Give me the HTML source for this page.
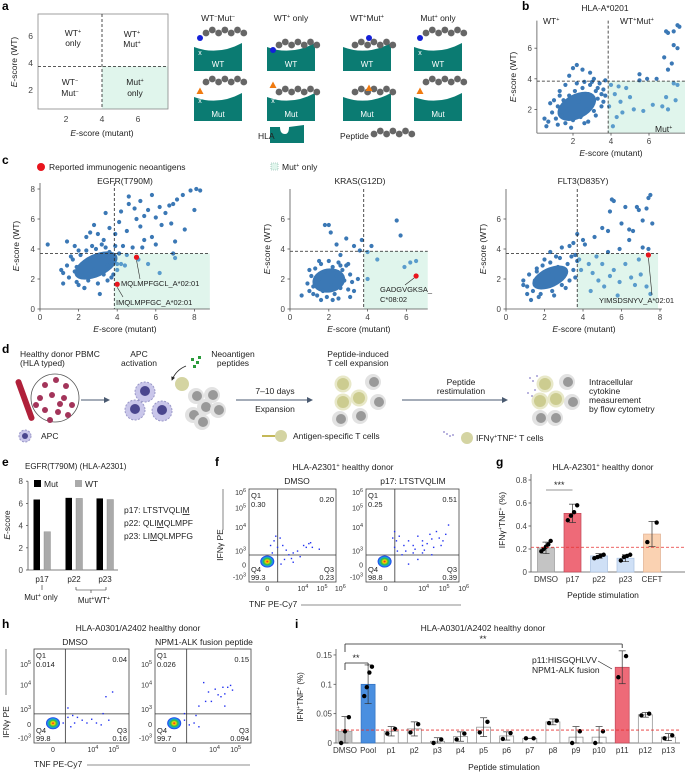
<!DOCTYPE html>
<html><head><meta charset="utf-8">
<style>
html,body{margin:0;padding:0;background:#fff;}
svg{display:block;font-family:"Liberation Sans",sans-serif;}
</style></head>
<body>
<svg id="fig" width="685" height="772" viewBox="0 0 685 772" xmlns="http://www.w3.org/2000/svg">
<defs>
<radialGradient id="flowBlob" cx="0.5" cy="0.5" r="0.5">
<stop offset="0" stop-color="#e8102a"/><stop offset="0.25" stop-color="#ffd400"/><stop offset="0.5" stop-color="#30c040"/><stop offset="0.75" stop-color="#1aa0e0"/><stop offset="1" stop-color="#2030f0"/>
</radialGradient>
<marker id="arr" markerWidth="6" markerHeight="6" refX="5" refY="3" orient="auto"><path d="M0,0 L6,3 L0,6 z" fill="#4a5a70"/></marker>
<marker id="arrK" markerWidth="5" markerHeight="5" refX="4" refY="2.5" orient="auto"><path d="M0,0 L5,2.5 L0,5 z" fill="#222"/></marker>
</defs>
</svg>
<script>
// ---------- DATA ----------
const bPoints=[[0.5,1.4],[0.6,0.9],[1.0,2.6],[1.3,3.2],[1.6,3.6],[1.8,4.2],[2.0,4.7],[2.2,4.9],[2.5,4.6],[2.9,4.4],[3.1,4.0],[2.6,3.8],[3.3,3.4],[3.5,3.0],[3.6,2.5],[3.2,1.6],[2.8,1.2],[1.2,1.0],[1.9,0.8],[3.7,3.9],[4.0,3.6],[4.2,3.0],[4.4,3.5],[4.5,2.5],[4.8,3.4],[5.0,2.8],[4.3,1.5],[5.2,2.0],[5.5,3.9],[5.7,1.9],[6.2,2.3],[6.7,2.2],[7.0,2.0],[6.9,2.8],[7.3,3.7],[7.5,3.6],[7.4,2.6],[4.1,0.9],[3.9,2.2],[4.6,1.8],[5.9,4.0],[6.4,4.0],[7.0,4.6],[7.2,5.0],[6.8,5.4],[7.5,6.0],[7.3,6.2],[7.0,7.0],[7.3,7.1],[7.6,7.4],[7.5,7.5],[6.9,7.1],[5.5,4.3]];
const bClusterPts=[[0.7,1.2],[0.9,1.8],[1.1,1.4],[1.2,2.2],[1.4,1.6],[1.5,2.6],[1.6,1.1],[1.7,2.0],[1.8,2.9],[2.0,1.3],[2.1,3.2],[2.3,2.5],[2.4,1.5],[2.5,3.4],[2.7,2.0],[2.8,3.0],[2.9,3.6],[3.0,2.4],[3.1,1.9],[3.2,3.2],[3.3,2.7],[3.4,3.7],[3.5,2.2],[3.6,3.3],[3.7,2.9],[0.8,2.4],[1.3,2.9],[2.2,3.7],[2.6,1.1],[3.0,3.8]];
const bCluster=[2.2,2.2,1.1,0.8,-28];
const egfrPoints=[[0.4,4.3],[1.1,2.6],[1.2,1.7],[1.4,4.5],[1.6,3.5],[1.8,4.2],[2.0,3.9],[2.4,4.8],[2.6,5.1],[3.0,5.0],[3.3,4.6],[3.6,5.4],[3.9,5.0],[4.1,5.8],[4.2,6.5],[4.6,7.0],[4.9,6.7],[4.6,7.5],[5.0,6.0],[5.2,5.5],[5.4,6.2],[5.6,6.6],[5.8,4.8],[6.0,6.1],[6.2,6.8],[6.5,6.4],[6.7,6.9],[6.9,7.0],[7.1,7.3],[7.4,7.6],[7.8,7.9],[8.1,8.0],[8.3,7.9],[8.0,6.6],[7.5,5.3],[7.0,4.5],[6.8,5.7],[6.0,4.3],[5.4,4.6],[4.8,4.1],[4.3,4.2],[4.5,3.6],[4.2,3.0],[4.0,2.6],[4.4,2.9],[5.1,3.3],[5.6,3.0],[6.2,2.4],[7.0,3.4],[6.9,3.7],[3.1,1.0],[2.3,1.4],[1.9,1.8],[3.5,1.9],[3.8,2.3],[4.5,5.2],[5.2,7.2],[5.8,7.6],[3.4,6.4],[2.8,5.6],[5.3,4.1],[6.3,5.6]];
const egfrClusterPts=[[1.2,2.4],[1.4,2.9],[1.5,2.1],[1.7,3.3],[1.8,2.5],[2.0,1.6],[2.1,3.6],[2.2,2.2],[2.4,3.9],[2.5,1.9],[2.6,3.2],[2.8,2.6],[2.9,4.0],[3.0,1.7],[3.1,3.5],[3.3,2.3],[3.4,4.1],[3.5,2.9],[3.6,3.8],[3.7,2.1],[3.8,3.3],[3.9,4.2],[4.0,3.0],[4.1,3.7],[2.3,1.4],[1.9,2.8],[3.2,4.3],[2.7,4.2]];
const egfrCluster=[2.9,2.9,1.2,0.75,-25];
const egfrRed=[[5.0,3.45],[4.0,1.65]];
const krasPoints=[[0.6,0.9],[1.0,2.6],[1.5,3.2],[1.8,5.6],[2.0,5.6],[2.1,5.1],[2.4,4.3],[2.6,3.6],[2.9,4.7],[3.3,4.2],[3.6,3.9],[3.7,4.6],[3.5,2.0],[3.3,1.2],[3.1,0.8],[2.2,0.6],[3.0,3.0],[4.0,3.8],[4.2,4.2],[4.0,2.0],[5.5,5.9],[5.7,4.9],[6.2,3.1],[6.5,3.2],[5.9,2.8],[4.5,3.3],[1.2,1.0],[2.6,2.9]];
const krasClusterPts=[[0.9,1.7],[1.0,1.2],[1.1,2.2],[1.2,1.5],[1.3,2.7],[1.4,0.9],[1.5,2.0],[1.6,3.0],[1.7,1.2],[1.8,2.5],[1.9,0.8],[2.0,3.2],[2.1,1.6],[2.2,2.8],[2.3,1.0],[2.4,2.2],[2.5,3.1],[2.6,1.4],[2.7,2.6],[2.8,1.9],[2.9,2.9],[3.0,1.3],[3.1,2.3],[3.2,1.8],[1.6,0.6],[2.5,0.7]];
const krasCluster=[2.0,1.9,0.85,0.8,-10];
const krasRed=[[6.5,2.2]];
const flt3Points=[[0.9,1.6],[1.1,1.0],[1.3,0.6],[1.6,2.7],[2.0,3.3],[2.3,3.8],[2.6,3.5],[2.9,4.1],[3.3,4.2],[3.5,4.4],[3.6,3.6],[3.8,3.3],[3.9,2.6],[4.1,4.3],[4.3,3.0],[4.5,2.4],[4.7,3.5],[4.8,1.9],[5.0,3.0],[5.1,1.5],[5.4,2.2],[5.3,3.8],[5.6,2.6],[5.9,1.8],[6.2,3.0],[6.5,2.1],[6.7,1.6],[7.0,2.3],[6.9,3.3],[7.3,1.5],[7.5,1.0],[5.8,0.9],[4.4,1.2],[3.7,5.0],[4.0,4.6],[4.6,4.8],[5.0,5.4],[5.3,5.2],[5.4,6.5],[5.5,7.3],[5.6,7.2],[6.0,5.7],[6.2,6.8],[6.4,5.3],[6.4,4.6],[6.6,5.2],[6.8,6.8],[6.9,6.6],[7.1,5.9],[7.3,6.7],[7.4,7.4],[7.5,7.6],[7.6,5.7],[7.1,4.1],[7.4,4.0],[5.9,4.0]];
const flt3ClusterPts=[[0.9,1.9],[1.1,1.5],[1.2,2.3],[1.4,1.2],[1.5,1.9],[1.6,2.5],[1.8,1.0],[1.9,2.9],[2.0,1.5],[2.2,2.4],[2.3,3.1],[2.4,1.2],[2.6,2.0],[2.7,2.8],[2.8,3.4],[2.9,1.6],[3.0,2.4],[3.2,3.0],[3.3,1.9],[3.4,3.5],[3.5,2.6],[3.6,2.1],[3.7,3.2],[1.7,0.8],[2.5,0.9],[3.1,1.4]];
const flt3Cluster=[2.3,2.1,1.0,0.65,-25];
const flt3Red=[[7.4,3.6]];

const eCategories=["p17","p22","p23"];
const eMut=[6.35,6.5,6.45];
const eWT=[3.45,6.45,6.35];
const eTicks=[0,2,4,6,8];

const gCategories=["DMSO","p17","p22","p23","CEFT"];
const gValues=[0.21,0.51,0.14,0.12,0.33];
const gErr=[0.05,0.08,0.02,0.03,0.11];
const gDots=[[0.18,0.2,0.22,0.24,0.27],[0.45,0.49,0.52,0.58],[0.12,0.13,0.14,0.15],[0.1,0.13,0.14,0.15],[0.26,0.43]];
const gTicks=[0,0.2,0.4,0.6,0.8];
const gThreshold=0.215;

const iCategories=["DMSO","Pool","p1","p2","p3","p4","p5","p6","p7","p8","p9","p10","p11","p12","p13"];
const iValues=[0.02,0.1,0.02,0.024,0.003,0.011,0.027,0.012,0.008,0.036,0.01,0.01,0.129,0.048,0.01];
const iErr=[0.025,0.033,0.008,0.012,0.006,0.008,0.016,0.007,0.0,0.005,0.018,0.018,0.028,0.004,0.006];
const iDots=[[0.0,0.02,0.044],[0.08,0.095,0.12,0.13],[0.016,0.024],[0.018,0.032],[0.0,0.006],[0.006,0.016],[0.018,0.036],[0.007,0.017],[0.008,0.008],[0.034,0.038],[0.0,0.02],[0.0,0.02],[0.112,0.148],[0.047,0.05],[0.008,0.013]];
const iTicks=[0,0.05,0.1,0.15];
const iThreshold=0.022;

const f1Dots=[[0.35,0.52],[0.38,0.6],[0.42,0.65],[0.45,0.7],[0.5,0.68],[0.55,0.66],[0.62,0.6],[0.68,0.58],[0.7,0.57],[0.72,0.62],[0.65,0.62],[0.48,0.74],[0.4,0.75],[0.3,0.5],[0.28,0.55],[0.32,0.62],[0.26,0.68],[0.36,0.8],[0.5,0.78],[0.58,0.72],[0.8,0.64],[0.24,0.6]];
const f2Dots=[[0.3,0.45],[0.32,0.55],[0.35,0.5],[0.4,0.6],[0.45,0.55],[0.5,0.6],[0.55,0.5],[0.6,0.55],[0.62,0.65],[0.65,0.58],[0.68,0.48],[0.7,0.53],[0.72,0.62],[0.75,0.45],[0.78,0.52],[0.8,0.6],[0.82,0.55],[0.85,0.48],[0.88,0.38],[0.6,0.68],[0.5,0.68],[0.42,0.66],[0.38,0.7],[0.55,0.75],[0.45,0.8],[0.7,0.7],[0.3,0.62],[0.28,0.52],[0.33,0.66],[0.6,0.6],[0.52,0.64]];
const h1Dots=[[0.35,0.62],[0.4,0.7],[0.45,0.72],[0.5,0.75],[0.55,0.78],[0.6,0.74],[0.65,0.78],[0.72,0.68],[0.75,0.5],[0.82,0.45],[0.78,0.75],[0.38,0.82],[0.42,0.78],[0.7,0.8],[0.3,0.78],[0.35,0.72]];
const h2Dots=[[0.5,0.35],[0.55,0.45],[0.62,0.42],[0.68,0.5],[0.72,0.47],[0.75,0.4],[0.78,0.38],[0.8,0.43],[0.7,0.4],[0.65,0.48],[0.58,0.55],[0.52,0.55],[0.45,0.6],[0.35,0.8],[0.4,0.78],[0.45,0.82],[0.3,0.75],[0.3,0.68],[0.42,0.7],[0.72,0.6]];

// ---------- HELPERS ----------
const NS="http://www.w3.org/2000/svg";
const root=document.getElementById('fig');
function mk(tag,attrs,name,parent){
  const el=document.createElementNS(NS,tag);
  for(const k in attrs) el.setAttribute(k,attrs[k]);
  
  
  (parent||root).appendChild(el);
  return el;
}
function txt(x,y,html,name,o){
  o=o||{};
  const a={x:x,y:y,'font-size':o.size||8.5,fill:o.fill||'#222','text-anchor':o.anchor||'start'};
  if(o.weight) a['font-weight']=o.weight;
  if(o.style) a['font-style']=o.style;
  if(o.rot) a.transform='rotate('+o.rot+' '+x+' '+y+')';
  const el=mk('text',a,name,o.parent);
  el.innerHTML=html;
  return el;
}
const S=s=>'<tspan baseline-shift="super" font-size="5.5">'+s+'</tspan>';
const line=(x1,y1,x2,y2,name,o)=>{o=o||{};const a={x1,y1,x2,y2,stroke:o.stroke||'#222','stroke-width':o.w||0.8,'stroke-dasharray':o.dash||'none'};if(o.marker)a['marker-end']=o.marker;return mk('line',a,name);};
const EY='<tspan font-style="italic">E</tspan>-score (WT)';
const EX='<tspan font-style="italic">E</tspan>-score (mutant)';
const BLUE='#3b78b5', LBLUE='#5a9ccc', SHADE='#e0f5ec', TEAL='#0b7b72';

// ---------- PANEL LETTERS ----------
[['a',2,10],['b',522,10],['c',2,164],['d',2,353],['e',2,466],['f',215,466],['g',496,466],['h',2,628],['i',295,628]].forEach(p=>txt(p[1],p[2],p[0],'panel-label-'+p[0],{size:12,weight:'bold',fill:'#000'}));

// ---------- PANEL A schematic ----------
(function(){
  const ax=v=>30+v*18, ay=v=>117-v*13.5;
  mk('rect',{x:ax(4),y:ay(3.75),width:168-ax(4),height:109-ay(3.75),fill:SHADE},'a-mut-only-shade');
  mk('rect',{x:38,y:14,width:130,height:95,fill:'none',stroke:'#888','stroke-width':0.8},'a-plot-frame');
  line(ax(4),14,ax(4),109,'a-threshold-x',{dash:'3,2'});
  line(38,ay(3.75),168,ay(3.75),'a-threshold-y',{dash:'3,2'});
  [2,4,6].forEach(v=>{txt(ax(v),122,v,'a-x-tick-'+v,{anchor:'middle',fill:'#444'});txt(33,ay(v)+3,v,'a-y-tick-'+v,{anchor:'end',fill:'#444'});});
  txt(102,136,EX,'a-x-axis-title',{anchor:'middle'});
  txt(17,62,EY,'a-y-axis-title',{anchor:'middle',rot:-90});
  txt(73,36,'WT'+S('+'),'a-label-wt-only',{anchor:'middle'});txt(73,46,'only','a-label-wt-only-2',{anchor:'middle'});
  txt(132,37,'WT'+S('+'),'a-label-wtmut',{anchor:'middle'});txt(132,47,'Mut'+S('+'),'a-label-wtmut-2',{anchor:'middle'});
  txt(70,85,'WT'+S('−'),'a-label-neg',{anchor:'middle'});txt(70,96,'Mut'+S('−'),'a-label-neg-2',{anchor:'middle'});
  txt(135,85,'Mut'+S('+'),'a-label-mut-only',{anchor:'middle'});txt(135,96,'only','a-label-mut-only-2',{anchor:'middle'});
  const cols=[218,291,367,438];
  const heads=['WT'+S('−')+'Mut'+S('−'),'WT'+S('+')+' only','WT'+S('+')+'Mut'+S('+'),'Mut'+S('+')+' only'];
  function hla(cx,top,label,name){
    const l=cx-24,r=cx+24,b=top+24;
    mk('path',{d:`M${l},${top} Q${cx},${top+9} ${r},${top-4} L${r},${b} L${l},${b} Z`,fill:TEAL},name+'-hla');
    txt(cx,b-4,label,name+'-label',{anchor:'middle',fill:'#fff',size:8});
  }
  function pep(cx,y,name){
    for(let k=0;k<7;k++){mk('circle',{cx:cx-16+k*6.3,cy:y-(k%2?3:0),r:3.4,fill:'#666'},name+'-residue');}
  }
  cols.forEach((cx,i)=>{
    txt(cx,21,heads[i],'a-icon-header-'+i,{anchor:'middle'});
    hla(cx,47,'WT','a-icon-wt-'+i);
    hla(cx,97,'Mut','a-icon-mut-'+i);
    pep(cx+4,i==1||i==2?45:33,'a-icon-wt-peptide-'+i);
    pep(cx+4,i==2||i==1?92:82,'a-icon-mut-peptide-'+i);
    mk('circle',{cx:i==2?cx+2:cx-18,cy:i==1?50:38,r:3,fill:'#1420d8'},'a-wt-residue-'+i);
    const my=i==2?88:(i==1?85:91);
    const mx=i==2?cx+2:cx-18;
    mk('path',{d:`M${mx-3.5},${my+3} L${mx+3.5},${my+3} L${mx},${my-3.5} Z`,fill:'#f07a10'},'a-mut-residue-'+i);
    if(i==0||i==3) txt(cx-18,55,'x','a-wt-mismatch-'+i,{anchor:'middle',size:7,fill:'#fff'});
    if(i==0||i==1) txt(cx-18,103,'x','a-mut-mismatch-'+i,{anchor:'middle',size:7,fill:'#fff'});
  });
  mk('path',{d:'M270,127 L280,127 Q280,134 285,134 Q289,134 289,127 L304,125 L304,143 L270,143 Z',fill:TEAL},'a-legend-hla-icon');
  txt(258,139,'HLA','a-legend-hla-text');
  txt(340,139,'Peptide','a-legend-peptide-text');
  for(let k=0;k<7;k++) mk('circle',{cx:374+k*6.3,cy:134-(k%2?3:0),r:3.4,fill:'#666'},'a-legend-peptide-residue');
})();

// ---------- SCATTER HELPER ----------
function scatter(c){
  const X=v=>c.x0+v*c.sx, Y=v=>c.y0-v*c.sy;
  mk('rect',{x:X(c.dx),y:Y(c.dy),width:X(c.shadeMax)-X(c.dx),height:Y(c.yMin)-Y(c.dy),fill:SHADE},c.n+'-mut-only-shade');
  const cl=c.cluster;
  mk('ellipse',{cx:X(cl[0]),cy:Y(cl[1]),rx:cl[2]*c.sx,ry:cl[3]*c.sy,fill:BLUE,transform:`rotate(${cl[4]} ${X(cl[0])} ${Y(cl[1])})`},c.n+'-dense-cluster');
  c.cpts.concat(c.pts).forEach(p=>{
    const inShade=p[0]>c.dx&&p[1]<c.dy;
    mk('circle',{cx:X(p[0]),cy:Y(p[1]),r:2.1,fill:inShade?LBLUE:BLUE},c.n+'-point');
  });
  line(X(c.dx),Y(c.yTop),X(c.dx),Y(c.yMin),c.n+'-threshold-x',{dash:'3,2'});
  line(X(c.xMin),Y(c.dy),X(c.shadeMax),Y(c.dy),c.n+'-threshold-y',{dash:'3,2'});
  (c.red||[]).forEach(p=>mk('circle',{cx:X(p[0]),cy:Y(p[1]),r:2.6,fill:'#e8141c'},c.n+'-reported-neoantigen'));
  line(X(c.xMin),Y(c.yTop),X(c.xMin),Y(c.yMin),c.n+'-y-axis',{stroke:'#555'});
  line(X(c.xMin),Y(c.yMin),X(c.xMax),Y(c.yMin),c.n+'-x-axis',{stroke:'#555'});
  c.xt.forEach(v=>{line(X(v),Y(c.yMin),X(v),Y(c.yMin)+2.5,c.n+'-x-tick',{stroke:'#555'});txt(X(v),Y(c.yMin)+11,v,c.n+'-x-tick-label-'+v,{anchor:'middle',fill:'#444',size:8});});
  c.yt.forEach(v=>{line(X(c.xMin)-2.5,Y(v),X(c.xMin),Y(v),c.n+'-y-tick',{stroke:'#555'});txt(X(c.xMin)-5,Y(v)+3,v,c.n+'-y-tick-label-'+v,{anchor:'end',fill:'#444',size:8});});
  txt((X(c.xMin)+X(c.xMax))/2,Y(c.yMin)+23,EX,c.n+'-x-axis-title',{anchor:'middle'});
  txt(c.ylx,(Y(c.yMin)+Y(c.yTop))/2,EY,c.n+'-y-axis-title',{anchor:'middle',rot:-90});
  return {X,Y};
}
(function(){
  scatter({n:'b',x0:535,sx:19,y0:140,sy:15.3,dx:3.85,dy:3.85,shadeMax:7.9,xMin:0.1,xMax:7.9,yMin:0.45,yTop:7.8,pts:bPoints,cpts:bClusterPts,cluster:bCluster,xt:[2,4,6],yt:[2,4,6],ylx:516});
  txt(605,11,'HLA-A*0201','b-title',{anchor:'middle'});
  txt(543,24,'WT'+S('+'),'b-label-wt');
  txt(620,24,'WT'+S('+')+'Mut'+S('+'),'b-label-wtmut');
  txt(655,132,'Mut'+S('+'),'b-label-mut');
})();
mk('circle',{cx:41,cy:167,r:4,fill:'#e8141c'},'c-legend-red-dot');
txt(49,170,'Reported immunogenic neoantigens','c-legend-red-text');
mk('rect',{x:271,y:163,width:7,height:7,fill:SHADE,stroke:'#7a9','stroke-dasharray':'1,1','stroke-width':0.6},'c-legend-shade-box');
txt(282,170,'Mut'+S('+')+' only','c-legend-shade-text');
(function(){
  const r=scatter({n:'egfr',x0:40,sx:19.3,y0:309,sy:15,dx:3.85,dy:3.7,shadeMax:8.8,xMin:0,xMax:8.8,yMin:0,yTop:8.4,pts:egfrPoints,cpts:egfrClusterPts,cluster:egfrCluster,red:egfrRed,xt:[0,2,4,6,8],yt:[0,2,4,6,8],ylx:19});
  txt(125,184,'EGFR(T790M)','egfr-title',{anchor:'middle'});
  txt(121,286,'MQLMPFGCL_A*02:01','egfr-annot-1',{size:7.5});
  line(140,279,r.X(5.0),r.Y(3.45)+3,'egfr-annot-1-arrow',{w:0.6});
  txt(116,305,'IMQLMPFGC_A*02:01','egfr-annot-2',{size:7.5});
  line(123,297,r.X(4.0),r.Y(1.65)+3,'egfr-annot-2-arrow',{w:0.6});
})();
(function(){
  const r=scatter({n:'kras',x0:290,sx:19.4,y0:309,sy:15,dx:3.8,dy:3.85,shadeMax:7.1,xMin:0,xMax:7.1,yMin:0,yTop:8.0,pts:krasPoints,cpts:krasClusterPts,cluster:krasCluster,red:krasRed,xt:[0,2,4,6],yt:[0,2,4,6],ylx:270});
  txt(360,184,'KRAS(G12D)','kras-title',{anchor:'middle'});
  txt(380,292,'GADGVGKSA_','kras-annot-1',{size:7.5});
  txt(380,302,'C*08:02','kras-annot-2',{size:7.5});
  line(405,285,r.X(6.5)-2,r.Y(2.2)+2,'kras-annot-arrow',{w:0.6});
})();
(function(){
  const r=scatter({n:'flt3',x0:506,sx:19.25,y0:309,sy:15,dx:3.7,dy:3.7,shadeMax:7.9,xMin:0,xMax:8.1,yMin:0,yTop:8.0,pts:flt3Points,cpts:flt3ClusterPts,cluster:flt3Cluster,red:flt3Red,xt:[0,2,4,6,8],yt:[0,2,4,6],ylx:486});
  txt(583,184,'FLT3(D835Y)','flt3-title',{anchor:'middle'});
  txt(599,303,'YIMSDSNYV_A*02:01','flt3-annot',{size:7.5});
  line(652,295,r.X(7.4),r.Y(3.6)+3,'flt3-annot-arrow',{w:0.6});
})();

// ---------- PANEL D ----------
(function(){
  txt(20,357,'Healthy donor PBMC','d-text-pbmc');txt(20,366,'(HLA typed)','d-text-hla-typed');
  mk('circle',{cx:55,cy:398,r:24,fill:'#fff',stroke:'#555','stroke-width':0.8},'d-pbmc-circle');
  [[45,385],[56,380],[66,386],[40,398],[52,395],[64,398],[72,405],[45,410],[58,412],[68,415],[50,420],[60,404],[36,405]].forEach(p=>mk('circle',{cx:p[0],cy:p[1],r:3,fill:'#a3345a'},'d-pbmc-cell'));
  mk('rect',{x:22,y:378,width:6,height:44,rx:3,fill:'#b0203a',transform:'rotate(-20 25 400)'},'d-blood-tube');
  line(81,400,109,400,'d-arrow-1',{stroke:'#4a5a70',w:1,marker:'url(#arr)'});
  txt(139,357,'APC','d-text-apc',{anchor:'middle'});txt(139,366,'activation','d-text-activation',{anchor:'middle'});
  txt(233,357,'Neoantigen','d-text-neoantigen',{anchor:'middle'});txt(233,366,'peptides','d-text-peptides',{anchor:'middle'});
  [[191,358],[196,361],[193,365],[198,356]].forEach(p=>mk('rect',{x:p[0],y:p[1],width:3,height:3,fill:'#2a9a3a'},'d-peptide'));
  mk('path',{d:'M186,366 Q176,370 172,380',fill:'none',stroke:'#222','stroke-width':0.8,'marker-end':'url(#arrK)'},'d-curved-arrow');
  [[196,396],[205,407],[193,415],[212,395],[218,410],[202,422]].forEach(p=>{mk('circle',{cx:p[0],cy:p[1],r:8,fill:'#e2e2e2'},'d-t-cell-outer');mk('circle',{cx:p[0]+1,cy:p[1],r:5,fill:'#999'},'d-t-cell-inner');});
  [[145,392],[135,410],[162,411]].forEach(p=>{mk('circle',{cx:p[0],cy:p[1],r:10,fill:'#c9c6ea',stroke:'#9a98c8','stroke-dasharray':'2,1.5'},'d-apc-cell');mk('circle',{cx:p[0],cy:p[1]-1,r:5,fill:'#4a468e'},'d-apc-nucleus');});
  mk('circle',{cx:182,cy:384,r:7,fill:'#d4d4a2'},'d-antigen-t-cell');
  line(236,400,312,400,'d-arrow-2',{stroke:'#4a5a70',w:1,marker:'url(#arr)'});
  txt(275,394,'7–10 days','d-text-days',{anchor:'middle'});txt(275,412,'Expansion','d-text-expansion',{anchor:'middle'});
  txt(358,357,'Peptide-induced','d-text-peptide-induced',{anchor:'middle'});txt(358,366,'T cell expansion','d-text-t-cell-expansion',{anchor:'middle'});
  [[373,382],[378,402],[360,416],[340,419]].forEach(p=>{mk('circle',{cx:p[0],cy:p[1],r:8,fill:'#e2e2e2'},'d-t-cell-outer');mk('circle',{cx:p[0]+1,cy:p[1],r:5,fill:'#999'},'d-t-cell-inner');});
  [[343,384],[343,402],[359,398]].forEach(p=>{mk('circle',{cx:p[0],cy:p[1],r:8.5,fill:'#e8e8c8'},'d-antigen-t-cell-outer');mk('circle',{cx:p[0],cy:p[1],r:6,fill:'#cccc90'},'d-antigen-t-cell-inner');});
  line(402,400,507,400,'d-arrow-3',{stroke:'#4a5a70',w:1,marker:'url(#arr)'});
  txt(461,385,'Peptide','d-text-peptide',{anchor:'middle'});txt(461,394,'restimulation','d-text-restimulation',{anchor:'middle'});
  [[567,382],[572,402],[555,418],[540,418]].forEach(p=>{mk('circle',{cx:p[0],cy:p[1],r:8,fill:'#e2e2e2'},'d-t-cell-outer');mk('circle',{cx:p[0]+1,cy:p[1],r:5,fill:'#999'},'d-t-cell-inner');});
  [[545,384],[540,401],[556,399]].forEach(p=>{mk('circle',{cx:p[0],cy:p[1],r:8.5,fill:'#e8e8c8'},'d-antigen-t-cell-outer');mk('circle',{cx:p[0],cy:p[1],r:6,fill:'#cccc90'},'d-antigen-t-cell-inner');});
  [[530,378],[533,381],[528,393],[532,396],[535,390],[537,376]].forEach(p=>mk('circle',{cx:p[0],cy:p[1],r:0.9,fill:'#8a80c8'},'d-cytokine'));
  ['Intracellular','cytokine','measurement','by flow cytometry'].forEach((s,k)=>txt(589,385+k*9,s,'d-text-icc-'+k));
  mk('circle',{cx:25,cy:436,r:6,fill:'#c9c6ea',stroke:'#9a98c8','stroke-dasharray':'2,1.5'},'d-legend-apc-icon');
  mk('circle',{cx:25,cy:436,r:3,fill:'#4a468e'},'d-legend-apc-nucleus');
  txt(41,439,'APC','d-legend-apc-text');
  mk('circle',{cx:281,cy:436,r:6,fill:'#d4d4a2'},'d-legend-antigen-icon');
  line(262,436,275,436,'d-legend-tcr',{stroke:'#b0a020',w:1.5});
  txt(293,439,'Antigen-specific T cells','d-legend-antigen-text');
  mk('circle',{cx:467,cy:438,r:6,fill:'#d4d4a2'},'d-legend-ifn-icon');
  txt(476,441,'IFNγ'+S('+')+'TNF'+S('+')+' T cells','d-legend-ifn-text');
  [[444,432],[447,434],[450,436],[453,435]].forEach(p=>mk('circle',{cx:p[0],cy:p[1],r:0.9,fill:'#8a80c8'},'d-legend-cytokine'));
})();

// ---------- PANEL E ----------
(function(){
  const Y=v=>570-v*11.1;
  const cx=[42,74,105];
  txt(25,469,'EGFR(T790M) (HLA-A2301)','e-title',{size:8});
  line(28,Y(8),28,570,'e-y-axis',{stroke:'#555'});
  line(28,570,118,570,'e-x-axis',{stroke:'#555'});
  eTicks.forEach(v=>{line(26,Y(v),28,Y(v),'e-y-tick',{stroke:'#555'});txt(23,Y(v)+3,v,'e-y-tick-label-'+v,{anchor:'end',size:8,fill:'#444'});});
  txt(10,525,'<tspan font-style="italic">E</tspan>-score','e-y-axis-title',{anchor:'middle',rot:-90});
  eCategories.forEach((c,i)=>{
    mk('rect',{x:cx[i]-8.5,y:Y(eMut[i]),width:6.5,height:570-Y(eMut[i]),fill:'#000'},'e-bar-mut-'+c);
    mk('rect',{x:cx[i]+2,y:Y(eWT[i]),width:6.5,height:570-Y(eWT[i]),fill:'#aaa',stroke:'#888','stroke-width':0.4},'e-bar-wt-'+c);
    txt(cx[i],582,c,'e-x-label-'+c,{anchor:'middle',size:8});
  });
  mk('rect',{x:34,y:480,width:7,height:7,fill:'#000'},'e-legend-mut-box');txt(44,487,'Mut','e-legend-mut-text');
  mk('rect',{x:75,y:480,width:7,height:7,fill:'#aaa'},'e-legend-wt-box');txt(85,487,'WT','e-legend-wt-text');
  line(42,585,42,590,'e-bracket-p17',{w:0.6});
  txt(41,600,'Mut'+S('+')+' only','e-group-mut-only',{anchor:'middle',size:8});
  line(76,590,106,590,'e-bracket-wtmut',{w:0.6});line(76,587,76,590,'e-bracket-l',{w:0.6});line(106,587,106,590,'e-bracket-r',{w:0.6});line(91,590,91,593,'e-bracket-m',{w:0.6});
  txt(94,603,'Mut'+S('+')+'WT'+S('+'),'e-group-mutwt',{anchor:'middle',size:8});
  txt(124,513,'p17: LTSTVQLI<tspan text-decoration="underline">M</tspan>','e-seq-p17');
  txt(124,526,'p22: QLI<tspan text-decoration="underline">M</tspan>QLMPF','e-seq-p22');
  txt(124,539,'p23: LI<tspan text-decoration="underline">M</tspan>QLMPFG','e-seq-p23');
})();

// ---------- FLOW HELPER ----------
function flow(n,x,y,w,h,gv,gh,blob,dots,q,yt,xt){
  mk('rect',{x,y,width:w,height:h,fill:'#fff',stroke:'#444','stroke-width':0.8},n+'-frame');
  line(x+gv*w,y,x+gv*w,y+h,n+'-gate-vertical',{stroke:'#333'});
  line(x,y+gh*h,x+w,y+gh*h,n+'-gate-horizontal',{stroke:'#333'});
  dots.forEach(d=>mk('rect',{x:x+d[0]*w,y:y+d[1]*h,width:1.4,height:1.4,fill:'#2030f0'},n+'-event'));
  mk('ellipse',{cx:x+blob[0]*w,cy:y+blob[1]*h,rx:7,ry:6,fill:'url(#flowBlob)'},n+'-density-blob');
  txt(x+2,y+9,'Q1',n+'-q1',{size:7.5});txt(x+2,y+18,q[0],n+'-q1-value',{size:7.5});
  txt(x+w-2,y+13,q[1],n+'-q2-value',{size:7.5,anchor:'end'});
  txt(x+2,y+h-10,'Q4',n+'-q4',{size:7.5});txt(x+2,y+h-2,q[2],n+'-q4-value',{size:7.5});
  txt(x+w-2,y+h-10,'Q3',n+'-q3',{size:7.5,anchor:'end'});txt(x+w-2,y+h-2,q[3],n+'-q3-value',{size:7.5,anchor:'end'});
  yt.forEach(t=>txt(x-3,y+t[1]*h+3,t[0],n+'-y-tick-label',{size:7,anchor:'end',fill:'#333'}));
  xt.forEach(t=>txt(x+t[1]*w,y+h+9,t[0],n+'-x-tick-label',{size:7,anchor:'middle',fill:'#333'}));
}
const pw=(e)=>'10'+S(e);
txt(343,470,'HLA-A2301'+S('+')+' healthy donor','f-title',{anchor:'middle'});
txt(297,484,'DMSO','f-dmso-title',{anchor:'middle'});
txt(413,484,'p17: LTSTVQLIM','f-p17-title',{anchor:'middle'});
const fyt=[[pw(6),0.03],[pw(5),0.2],[pw(4),0.41],[pw(3),0.66],['0',0.81],['-'+pw(3),0.94]];
const fxt=[['0',0.21],[pw(4),0.62],[pw(5),0.84],[pw(6),1.05]];
flow('f-dmso',249,489,87,93,0.33,0.71,[0.21,0.78],f1Dots,['0.30','0.20','99.3','0.23'],fyt,fxt);
flow('f-p17',366,489,93,93,0.31,0.71,[0.2,0.78],f2Dots,['0.25','0.51','98.8','0.39'],fyt,fxt);
txt(223,545,'IFNγ PE','f-y-axis-title',{anchor:'middle',rot:-90});
line(223,489,223,530,'f-y-axis-line',{stroke:'#666'});
txt(249,607,'TNF PE-Cy7','f-x-axis-title');
line(301,605,461,605,'f-x-axis-line',{stroke:'#666'});
txt(138,631,'HLA-A0301/A2402 healthy donor','h-title',{anchor:'middle'});
txt(75,645,'DMSO','h-dmso-title',{anchor:'middle'});
txt(204,645,'NPM1-ALK fusion peptide','h-npm1-title',{anchor:'middle'});
const hyt=[[pw(5),0.16],[pw(4),0.38],[pw(3),0.64],['0',0.8],['-'+pw(3),0.94]];
const hxt=[['0',0.2],[pw(4),0.62],[pw(5),0.84]];
flow('h-dmso',34,649,95,94,0.33,0.69,[0.2,0.79],h1Dots,['0.014','0.04','99.8','0.16'],hyt,hxt);
flow('h-npm1',155,649,96,94,0.33,0.69,[0.2,0.79],h2Dots,['0.026','0.15','99.7','0.094'],hyt,hxt);
txt(9,722,'IFNγ PE','h-y-axis-title',{anchor:'middle',rot:-90});
line(6,649,6,695,'h-y-axis-line',{stroke:'#666'});
txt(34,767,'TNF PE-Cy7','h-x-axis-title');
line(87,765,250,765,'h-x-axis-line',{stroke:'#666'});

// ---------- BAR HELPER ----------
function barChart(n,cats,vals,errs,dots,ticks,thr,axisX,y0,sy,cx,bw,colors,stroke,xEnd,tickFmt){
  const Y=v=>y0-v*sy;
  line(axisX,Y(ticks[ticks.length-1])-6,axisX,y0,n+'-y-axis',{stroke:'#555'});
  line(axisX,y0,xEnd,y0,n+'-x-axis',{stroke:'#555'});
  ticks.forEach(v=>{line(axisX-2.5,Y(v),axisX,Y(v),n+'-y-tick',{stroke:'#555'});txt(axisX-4,Y(v)+3,tickFmt(v),n+'-y-tick-label',{anchor:'end',size:8,fill:'#444'});});
  cats.forEach((c,i)=>{
    mk('rect',{x:cx(i)-bw/2,y:Y(vals[i]),width:bw,height:y0-Y(vals[i]),fill:colors[i],stroke:stroke[i],'stroke-width':0.7},n+'-bar-'+c);
    const e1=Y(vals[i]+errs[i]),e2=Y(Math.max(0,vals[i]-errs[i]));
    line(cx(i),e1,cx(i),e2,n+'-error-'+c,{stroke:'#333',w:0.7});
    line(cx(i)-3.5,e1,cx(i)+3.5,e1,n+'-error-cap-'+c,{stroke:'#333',w:0.7});
    line(cx(i)-3.5,e2,cx(i)+3.5,e2,n+'-error-cap-low-'+c,{stroke:'#333',w:0.7});
    const d=dots[i];
    d.forEach((v,k)=>mk('circle',{cx:cx(i)+(d.length>1?(k/(d.length-1)-0.5)*bw*0.55:0),cy:Y(v),r:2.2,fill:'#000'},n+'-dot-'+c));
    txt(cx(i),y0+10,c,n+'-x-label-'+c,{anchor:'middle',size:8,fill:'#333'});
  });
  line(axisX,Y(thr),xEnd,Y(thr),n+'-threshold',{stroke:'#e83030',dash:'3,2',w:0.8});
  return Y;
}
(function(){
  const cx=i=>546+i*26.5;
  barChart('g',gCategories,gValues,gErr,gDots,gTicks,gThreshold,531,572,115,cx,17,['#c4c4c4','#ee6a78','#cfe0f6','#cfe0f6','#fad2b2'],['#999','#c04858','#a8c0e0','#a8c0e0','#e0b090'],685,v=>v===0?'0':v.toFixed(1));
  txt(603,470,'HLA-A2301'+S('+')+' healthy donor','g-title',{anchor:'middle'});
  line(cx(0),490,cx(1),490,'g-sig-line',{stroke:'#aaa',w:1.2});
  txt((cx(0)+cx(1))/2,488,'***','g-sig-stars',{anchor:'middle',size:9});
  txt(603,598,'Peptide stimulation','g-x-axis-title',{anchor:'middle'});
  txt(505,520,'IFNγ'+S('+')+'TNF'+S('+')+' (%)','g-y-axis-title',{anchor:'middle',rot:-90});
})();
(function(){
  const cx=i=>345+i*23.1;
  const colors=iCategories.map((c,i)=>i==0?'#c4c4c4':i==1?'#4a8fe0':i==12?'#ee6a78':'#fff');
  const strokes=iCategories.map((c,i)=>i==0?'#999':i==1?'#3070c0':i==12?'#c04858':'#888');
  barChart('i',iCategories,iValues,iErr,iDots,iTicks,iThreshold,336,743,587,cx,14,colors,strokes,680,v=>v===0?'0':String(v));
  txt(483,631,'HLA-A0301/A2402 healthy donor','i-title',{anchor:'middle'});
  line(cx(0),644,cx(12),644,'i-sig-line-p11',{w:0.8});line(cx(0),644,cx(0),652,'i-sig-tick-1',{w:0.8});line(cx(12),644,cx(12),648,'i-sig-tick-2',{w:0.8});
  txt(483,642,'**','i-sig-stars-p11',{anchor:'middle',size:9});
  line(cx(0),663,cx(1),663,'i-sig-line-pool',{w:0.8});line(cx(0),663,cx(0),670,'i-sig-tick-3',{w:0.8});line(cx(1),663,cx(1),666,'i-sig-tick-4',{w:0.8});
  txt(356,661,'**','i-sig-stars-pool',{anchor:'middle',size:9});
  txt(532,663,'p11:HISGQHLVV','i-annot-1');
  txt(532,673,'NPM1-ALK fusion','i-annot-2');
  line(598,661,612,669,'i-annot-line',{w:0.6});
  txt(504,770,'Peptide stimulation','i-x-axis-title',{anchor:'middle'});
  txt(303,697,'IFN'+S('+')+'TNF'+S('+')+' (%)','i-y-axis-title',{anchor:'middle',rot:-90,size:8});
})();
</script>
</body></html>
